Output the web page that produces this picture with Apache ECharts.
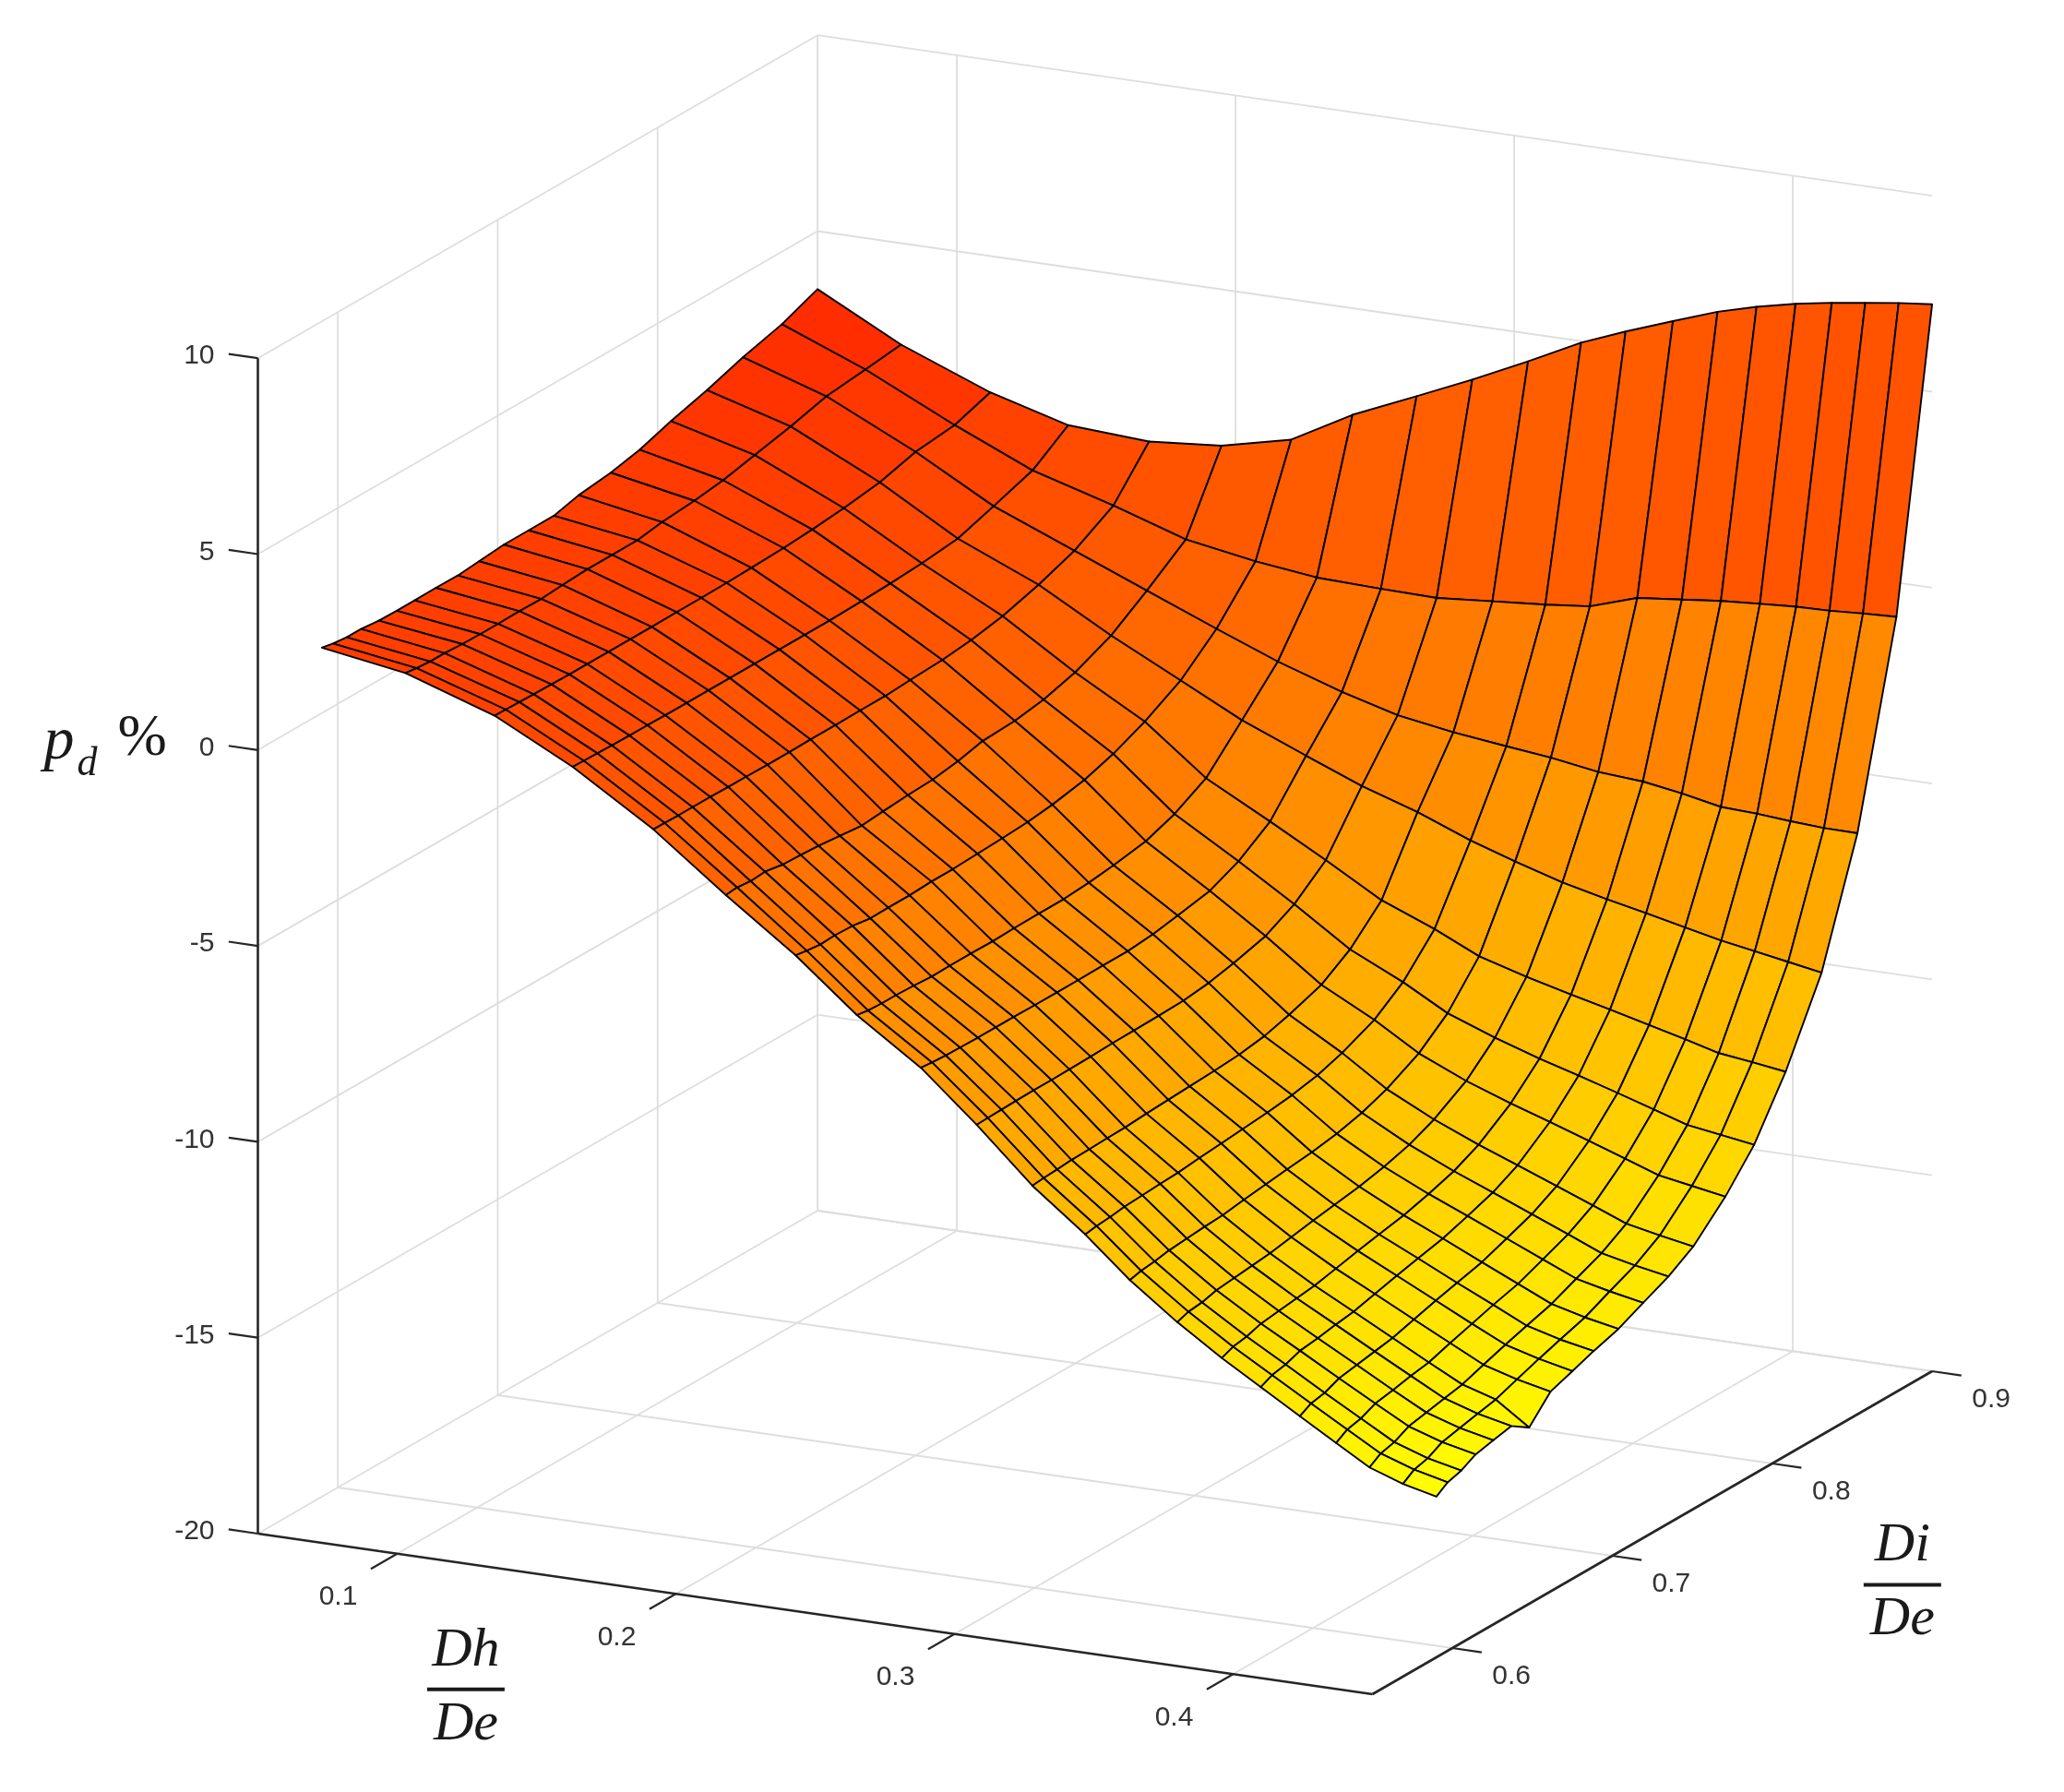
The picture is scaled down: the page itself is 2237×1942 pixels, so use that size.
<!DOCTYPE html>
<html>
<head>
<meta charset="utf-8">
<script src="https://cdn.jsdelivr.net/npm/echarts@6/dist/echarts.min.js"></script>
<style>
html,body{margin:0;padding:0;background:#ffffff;}
#main{width:2237px;height:1942px;}
</style>
</head>
<body>
<div id="main"></div>
<script>
// ---------------- data ----------------
// Dh/De grid (columns)
const dhValues = [0.05, 0.080, 0.112, 0.140, 0.169, 0.195, 0.220, 0.242, 0.265, 0.285, 0.305,
                  0.324, 0.340, 0.357, 0.373, 0.387, 0.401, 0.414, 0.426, 0.438, 0.45];
// Di/De grid (rows, from back 0.9 to front 0.59)
const diValues = [0.9, 0.8777, 0.8533, 0.8309, 0.8084, 0.7887, 0.7707, 0.7506, 0.7351, 0.7193, 0.7038,
                  0.6883, 0.675, 0.6613, 0.648, 0.6368, 0.6256, 0.6145, 0.6055, 0.597, 0.59];
// p_d % : one row per diValues entry, one value per dhValues entry
const pdValues = [
  [3.52, 2.41, 1.52, 0.97, 0.85, 1.01, 1.42, 2.28, 2.99, 3.62, 4.29, 4.96, 5.41, 5.85, 6.25, 6.52, 6.74, 6.90, 7.02, 7.14, 7.23],
  [3.15, 2.30, 1.21, 0.34, -0.26, -0.86, -1.16, -1.35, -1.40, -1.43, -1.31, -1.20, -1.08, -0.69, -0.57, -0.46, -0.39, -0.33, -0.31, -0.26, -0.22],
  [2.88, 2.19, 1.10, 0.00, -0.84, -1.59, -2.31, -2.92, -3.46, -3.85, -4.08, -4.24, -4.37, -4.56, -4.64, -4.80, -5.00, -5.04, -5.11, -5.16, -5.17],
  [2.57, 1.95, 0.85, -0.30, -1.18, -2.21, -3.10, -3.89, -4.56, -5.13, -5.59, -6.12, -6.49, -6.85, -7.12, -7.33, -7.55, -7.75, -7.90, -8.05, -8.20],
  [2.31, 1.75, 0.72, -0.40, -1.45, -2.62, -3.62, -4.84, -5.71, -6.49, -7.31, -7.85, -8.38, -8.73, -9.02, -9.26, -9.51, -9.74, -9.97, -10.08, -10.20],
  [2.04, 1.57, 0.64, -0.45, -1.60, -2.85, -3.98, -5.29, -6.26, -7.15, -8.10, -8.74, -9.37, -9.82, -10.19, -10.48, -10.78, -11.07, -11.34, -11.47, -11.60],
  [1.88, 1.47, 0.59, -0.48, -1.68, -2.97, -4.22, -5.56, -6.59, -7.54, -8.58, -9.28, -9.97, -10.50, -10.91, -11.24, -11.58, -11.90, -12.20, -12.35, -12.50],
  [1.78, 1.40, 0.56, -0.50, -1.72, -3.01, -4.38, -5.70, -6.75, -7.76, -8.87, -9.65, -10.41, -11.01, -11.49, -11.87, -12.26, -12.62, -12.96, -13.14, -13.30],
  [1.62, 1.30, 0.54, -0.50, -1.76, -3.16, -4.46, -5.78, -6.86, -7.90, -9.05, -9.86, -10.65, -11.29, -11.80, -12.20, -12.61, -12.99, -13.35, -13.54, -13.70],
  [1.62, 1.30, 0.53, -0.50, -1.76, -3.26, -4.50, -5.83, -6.92, -7.98, -9.15, -9.99, -10.81, -11.48, -12.01, -12.43, -12.86, -13.26, -13.63, -13.83, -14.00],
  [1.62, 1.30, 0.53, -0.50, -1.77, -3.29, -4.53, -5.83, -6.92, -8.00, -9.20, -10.07, -10.92, -11.62, -12.19, -12.64, -13.10, -13.52, -13.91, -14.13, -14.30],
  [1.56, 1.26, 0.52, -0.50, -1.77, -3.34, -4.56, -5.84, -6.93, -8.01, -9.23, -10.13, -10.99, -11.72, -12.31, -12.78, -13.26, -13.69, -14.10, -14.33, -14.50],
  [1.51, 1.22, 0.52, -0.50, -1.78, -3.39, -4.56, -5.86, -6.93, -8.02, -9.26, -10.18, -11.06, -11.81, -12.42, -12.91, -13.40, -13.86, -14.27, -14.51, -14.70],
  [1.52, 1.23, 0.52, -0.50, -1.78, -3.33, -4.59, -5.85, -6.93, -8.04, -9.29, -10.23, -11.13, -11.91, -12.55, -13.05, -13.56, -14.03, -14.46, -14.71, -14.90],
  [1.51, 1.22, 0.52, -0.50, -1.77, -3.27, -4.59, -5.85, -6.92, -8.05, -9.33, -10.29, -11.21, -12.01, -12.67, -13.19, -13.72, -14.21, -14.65, -14.91, -15.50],
  [1.51, 1.22, 0.52, -0.49, -1.77, -3.24, -4.60, -5.86, -6.92, -8.06, -9.34, -10.31, -11.24, -12.06, -12.73, -13.26, -13.80, -14.29, -14.74, -15.01, -15.20],
  [1.52, 1.23, 0.53, -0.49, -1.76, -3.22, -4.53, -5.83, -6.92, -8.06, -9.36, -10.34, -11.28, -12.11, -12.79, -13.34, -13.88, -14.39, -14.84, -15.11, -15.30],
  [1.57, 1.26, 0.54, -0.48, -1.76, -3.14, -4.51, -5.81, -6.91, -8.07, -9.37, -10.37, -11.32, -12.16, -12.85, -13.40, -13.96, -14.47, -14.93, -15.21, -15.40],
  [1.57, 1.26, 0.55, -0.47, -1.76, -3.17, -4.53, -5.81, -6.90, -8.08, -9.40, -10.42, -11.39, -12.26, -12.97, -13.54, -14.12, -14.64, -15.12, -15.41, -15.60],
  [1.61, 1.29, 0.56, -0.46, -1.75, -3.13, -4.49, -5.79, -6.88, -8.09, -9.42, -10.45, -11.43, -12.30, -13.03, -13.61, -14.19, -14.72, -15.21, -15.50, -15.70],
  [1.67, 1.33, 0.57, -0.45, -1.75, -3.16, -4.44, -5.74, -6.85, -8.10, -9.45, -10.50, -11.50, -12.40, -13.15, -13.75, -14.35, -14.90, -15.40, -15.70, -15.90]
];
// axes
const dhRange = [0.05, 0.45];
const diRange = [0.55, 0.9];
const pdRange = [-20, 10];
const dhTicks = [0.1, 0.2, 0.3, 0.4];
const diTicks = [0.6, 0.7, 0.8, 0.9];
const pdTicks = [-20, -15, -10, -5, 0, 5, 10];

// ---------------- view (orthographic camera) ----------------
const W = 2237, H = 1942;
const CAM = { origin: [279.5, 1662], dh: [3020, 435], di: [1733, -1000], pd: [0, -42.46] };
function project(dh, di, pd) {
  const a = dh - dhRange[0], b = di - diRange[0], c = pd - pdRange[0];
  return [CAM.origin[0] + a * CAM.dh[0] + b * CAM.di[0] + c * CAM.pd[0],
          CAM.origin[1] + a * CAM.dh[1] + b * CAM.di[1] + c * CAM.pd[1]];
}

// faces: back rows first, far columns first (painter's order); colour = value at the low-index corner
const faces = [];
for (let j = 0; j < diValues.length - 1; j++) {
  for (let i = 0; i < dhValues.length - 1; i++) {
    faces.push([i, j, pdValues[j + 1][i]]);
  }
}
let zmin = Infinity, zmax = -Infinity;
pdValues.forEach(r => r.forEach(v => { zmin = Math.min(zmin, v); zmax = Math.max(zmax, v); }));

const chart = echarts.init(document.getElementById('main'), null, { renderer: 'canvas', width: W, height: H });

function seg(api, p1, p2, style) {
  const a = api.coord(project(p1[0], p1[1], p1[2]));
  const b = api.coord(project(p2[0], p2[1], p2[2]));
  return { type: 'line', shape: { x1: a[0], y1: a[1], x2: b[0], y2: b[1] }, style: style };
}
const TICK_FONT = 'Liberation Sans, Arial, Helvetica, sans-serif';
const MATH_FONT = 'Liberation Serif, Times New Roman, DejaVu Serif, serif';
const AX = '#262626';

function gridItem(params, api) {
  const g = [];
  const gs = { stroke: '#dedede', lineWidth: 1.8, fill: null };
  const [d0, d1] = dhRange, [i0, i1] = diRange, [z0, z1] = pdRange;
  dhTicks.forEach(d => g.push(seg(api, [d, i0, z0], [d, i1, z0], gs)));
  diTicks.forEach(v => g.push(seg(api, [d0, v, z0], [d1, v, z0], gs)));
  diTicks.forEach(v => g.push(seg(api, [d0, v, z0], [d0, v, z1], gs)));
  pdTicks.forEach(z => g.push(seg(api, [d0, i0, z], [d0, i1, z], gs)));
  dhTicks.forEach(d => g.push(seg(api, [d, i1, z0], [d, i1, z1], gs)));
  pdTicks.forEach(z => g.push(seg(api, [d0, i1, z], [d1, i1, z], gs)));
  return { type: 'group', children: g };
}

function surfItem(params, api) {
  const i = api.value(0), j = api.value(1);
  const corners = [[i, j], [i + 1, j], [i + 1, j + 1], [i, j + 1]];
  const pts = corners.map(c => api.coord(project(dhValues[c[0]], diValues[c[1]], pdValues[c[1]][c[0]])));
  return {
    type: 'polygon',
    shape: { points: pts },
    style: { fill: api.visual('color'), stroke: '#000000', lineWidth: 1.9, lineJoin: 'round' }
  };
}

function text(x, y, str, opt) {
  return { type: 'text', x: x, y: y, style: Object.assign({ text: str, fill: AX }, opt) };
}

function axisItem(params, api) {
  const g = [];
  const as = { stroke: AX, lineWidth: 2.6, fill: null };
  const ts = { stroke: AX, lineWidth: 2.2, fill: null };
  const [d0, d1] = dhRange, [i0, i1] = diRange, [z0, z1] = pdRange;
  // axis lines
  g.push(seg(api, [d0, i0, z0], [d0, i0, z1], as));
  g.push(seg(api, [d0, i0, z0], [d1, i0, z0], as));
  g.push(seg(api, [d1, i0, z0], [d1, i1, z0], as));
  // ticks
  dhTicks.forEach(d => g.push(seg(api, [d, i0, z0], [d, i0 - 0.0165, z0], ts)));
  diTicks.forEach(v => g.push(seg(api, [d1, v, z0], [d1 + 0.0105, v, z0], ts)));
  pdTicks.forEach(z => g.push(seg(api, [d0, i0, z], [d0 - 0.0105, i0, z], ts)));
  // tick labels
  const tf = { fontSize: 30, fontFamily: TICK_FONT, fill: '#333333' };
  pdTicks.forEach(z => {
    const p = api.coord(project(d0, i0, z));
    g.push(text(p[0] - 47, p[1] - 2, String(z), Object.assign({ align: 'right', verticalAlign: 'middle' }, tf)));
  });
  dhTicks.forEach(d => {
    const p = api.coord(project(d, i0, z0));
    g.push(text(p[0] - 64, p[1] + 47, String(d), Object.assign({ align: 'center', verticalAlign: 'middle' }, tf)));
  });
  diTicks.forEach(v => {
    const p = api.coord(project(d1, v, z0));
    g.push(text(p[0] + 64, p[1] + 31, String(v), Object.assign({ align: 'center', verticalAlign: 'middle' }, tf)));
  });
  // axis titles
  const zt = api.coord(project(d0, i0, 0));
  const it = { fontFamily: MATH_FONT, fontStyle: 'italic', fill: '#1a1a1a' };
  g.push(text(zt[0] - 232, zt[1] - 8, 'p', Object.assign({ fontSize: 66, align: 'left', verticalAlign: 'middle' }, it)));
  g.push(text(zt[0] - 196, zt[1] + 16, 'd', Object.assign({ fontSize: 44, align: 'left', verticalAlign: 'middle' }, it)));
  g.push(text(zt[0] - 152, zt[1] - 12, '%', { fontFamily: MATH_FONT, fontSize: 64, align: 'left', verticalAlign: 'middle', fill: '#1a1a1a' }));

  function frac(cx, cy, num) {
    g.push(text(cx, cy - 42, num, Object.assign({ fontSize: 60, align: 'center', verticalAlign: 'middle' }, it)));
    g.push({ type: 'rect', shape: { x: cx - 42, y: cy - 2, width: 84, height: 4 }, style: { fill: '#1a1a1a' } });
    g.push(text(cx, cy + 38, 'De', Object.assign({ fontSize: 60, align: 'center', verticalAlign: 'middle' }, it)));
  }
  const dht = api.coord(project(0.2, i0 - 0.0165, z0));
  frac(dht[0] - 199, dht[1] + 87, 'Dh');
  const dit = api.coord(project(d1 + 0.0105, 0.75, z0));
  frac(dit[0] + 196, dit[1] + 77, 'Di');
  return { type: 'group', children: g };
}

chart.setOption({
  animation: false,
  backgroundColor: '#ffffff',
  grid: { left: 0, right: 0, top: 0, bottom: 0 },
  xAxis: { type: 'value', min: 0, max: W, show: false },
  yAxis: { type: 'value', min: 0, max: H, inverse: true, show: false },
  visualMap: {
    type: 'continuous', show: false, seriesIndex: 1, dimension: 2,
    min: zmin, max: zmax, inRange: { color: ['#ffff00', '#ff0000'] }
  },
  series: [
    { type: 'custom', name: 'grid', coordinateSystem: 'cartesian2d', data: [[0, 0]], renderItem: gridItem, silent: true, z: 1 },
    { type: 'custom', name: 'pd', coordinateSystem: 'cartesian2d', data: faces,
      encode: { x: 0, y: 1 }, dimensions: ['i', 'j', 'pd'], renderItem: surfItem, z: 2 },
    { type: 'custom', name: 'axes', coordinateSystem: 'cartesian2d', data: [[0, 0]], renderItem: axisItem, silent: true, z: 3 }
  ]
});
</script>
</body>
</html>
